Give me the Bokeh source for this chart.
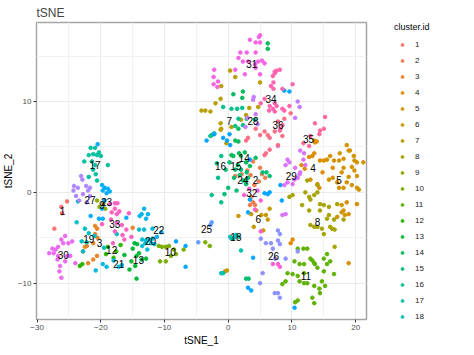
import math
from bokeh.plotting import figure
from bokeh.models import (Range1d, FixedTicker, ColumnDataSource, Legend, LegendItem, Title)
from bokeh.core.properties import value
from bokeh.embed import file_html
from bokeh.resources import INLINE

# ---------------- data (tSNE coordinates per cluster) ----------------
cluster_01 = [(-26.2,-1.6),(-25.3,-1.0),(-27.3,-4.0),(-26.1,-2.3)]
cluster_02 = [(3.0,2.4),(3.5,1.9),(4.8,1.2),(5.3,2.0),(4.1,0.8),(5.8,1.6),(3.9,3.4),(1.1,1.8),(3.6,-0.5),(3.9,-1.1),(3.4,-1.4),(4.2,-1.4),(2.1,2.0),(5.0,2.7)]
cluster_03 = [(-20.9,-3.7),(-20.6,-4.0),(-20.9,-4.6),(-20.5,-5.0),(-22.2,-5.9),(-21.2,-5.6),(-22.5,-6.0),(-22.0,-7.8),(-21.2,-7.4),(-20.6,-7.0),(-22.8,-6.5),(-15.0,-3.9)]
cluster_04 = [(13.5,5.7),(13.6,5.5),(13.9,5.6),(13.2,4.0),(12.7,3.9),(13.5,4.3),(14.4,3.5),(15.0,3.5),(12.9,1.4),(14.0,0.9),(14.3,0.5),(16.4,2.7),(12.0,2.6),(11.5,3.0),(14.8,2.2),(10.1,-5.2),(9.8,-5.6)]
cluster_05 = [(18.6,5.2),(18.9,4.6),(19.7,4.0),(19.8,3.5),(19.4,2.8),(19.8,2.4),(20.2,1.8),(18.9,1.7),(18.1,2.7),(17.8,2.2),(18.6,1.1),(19.4,0.8),(20.2,0.5),(20.5,0.3),(18.1,0.5),(17.4,0.5),(17.1,1.1),(16.4,1.6),(15.8,1.4),(16.0,4.0),(16.6,3.5),(17.4,3.5),(18.1,3.7),(20.2,-1.3),(18.6,-1.1),(17.8,-1.4),(18.1,-2.0),(18.9,-2.4),(18.3,-2.5),(17.1,-2.7),(17.5,4.3),(19.1,4.6),(20.2,3.3),(21.2,3.3),(18.9,-7.8),(17.8,-2.2),(15.5,3.6)]
cluster_06 = [(5.2,-2.5),(5.9,-2.5),(6.2,-3.0),(3.6,-2.4),(1.6,-2.6),(4.0,-3.8),(5.5,-4.2),(6.5,-1.8),(4.4,-2.0),(-0.5,-8.7),(-0.2,-8.6)]
cluster_07 = [(-4.2,9.0),(-3.6,9.0),(-2.8,8.9),(-1.2,10.3),(0.3,13.4),(1.1,12.7),(-1.1,11.7),(-1.2,7.6),(-1.1,7.0),(-1.2,6.9),(2.8,8.5),(0.5,7.2),(-0.3,5.4),(2.0,8.0),(3.3,9.3),(-2.0,9.8),(4.7,9.4),(5.0,12.1)]
cluster_08 = [(12.1,0.0),(12.7,-0.5),(12.9,-0.8),(13.5,-0.3),(14.0,0.0),(14.4,-1.3),(15.0,-1.4),(14.4,-2.0),(12.9,-3.6),(13.5,-3.8),(14.7,-4.0),(15.8,-2.5),(16.6,-3.0),(16.0,-3.8),(15.0,-4.6),(16.7,-4.1),(16.7,-6.0),(15.8,-1.6),(17.1,-1.3),(10.1,-0.3),(9.6,-0.5),(11.6,-1.4),(12.4,1.3),(14.0,0.8),(14.0,-3.8),(15.5,-2.9),(16.3,-4.0),(18.1,-3.0),(12.7,-2.0)]
cluster_09 = [(-19.6,-1.2),(-20.2,-1.6),(-19.3,-1.8),(-20.6,-0.9)]
cluster_10 = [(-10.9,-5.9),(-10.4,-6.0),(-9.8,-6.0),(-9.3,-5.9),(-8.5,-6.3),(-8.2,-6.8),(-9.0,-7.0),(-10.7,-7.6),(-9.8,-7.6),(-7.0,-6.3),(-3.6,-5.5),(-2.9,-5.9)]
cluster_11 = [(10.9,-6.2),(11.8,-6.2),(12.4,-6.2),(10.4,-7.6),(11.2,-7.9),(11.9,-7.9),(12.9,-7.3),(13.2,-7.5),(13.5,-7.8),(13.6,-7.9),(14.0,-8.3),(15.0,-8.7),(15.5,-7.9),(15.0,-7.3),(16.0,-7.6),(15.5,-6.8),(16.6,-9.0),(9.3,-8.9),(10.1,-9.0),(10.9,-9.2),(11.9,-8.9),(9.0,-9.8),(8.5,-10.1),(11.2,-9.8),(11.9,-10.0),(12.4,-10.0),(13.5,-10.3),(14.3,-10.6),(14.4,-11.1),(13.2,-11.6),(10.9,-11.9),(10.5,-12.1),(13.5,-12.2),(14.7,-9.8),(15.2,-10.3)]
cluster_12 = [(-18.9,-6.0),(-17.6,-6.5),(-18.0,-7.2),(-19.2,-6.8),(-16.9,-5.8),(-23.3,-8.1),(-22.9,-7.9)]
cluster_13 = [(-14.7,-5.6),(-14.3,-5.7),(-15.0,-6.2),(-14.0,-6.7),(-14.4,-7.0),(-13.6,-7.4),(-15.2,-7.6),(-14.6,-8.1),(-15.5,-8.5),(-14.4,-9.5),(-12.9,-7.3),(-16.3,-6.9)]
cluster_14 = [(1.6,7.0),(1.1,5.7),(1.6,5.6),(0.5,4.1),(0.8,4.0),(1.7,4.3),(2.0,4.0),(2.6,4.4),(4.3,3.8),(2.8,3.3),(3.4,2.9),(6.2,16.4),(6.2,15.8),(0.8,10.8),(2.2,10.4),(2.3,11.1)]
cluster_15 = [(0.2,3.3),(1.5,3.0),(-0.4,2.5),(0.9,1.6),(1.8,1.9),(2.7,1.3),(0.0,0.5),(-0.6,-0.2),(1.3,0.2),(5.4,2.2),(6.0,2.2),(6.5,1.8),(3.1,1.6),(2.8,0.9),(2.3,1.3),(1.1,2.5),(2.0,2.5),(2.9,2.2),(2.8,-9.5),(3.2,-9.5)]
cluster_16 = [(-2.6,6.3),(-2.2,6.5),(-2.8,6.2),(-1.1,4.0),(-2.6,-0.3),(-1.1,-1.1),(-0.8,9.4),(0.5,9.2),(1.4,9.2),(2.2,9.3),(1.6,8.1),(2.9,8.1),(4.2,8.0),(2.3,7.4),(1.1,7.3),(-1.6,1.6),(-1.8,3.2)]
cluster_17 = [(-21.9,4.1),(-21.2,4.2),(-20.6,4.1),(-20.3,4.4),(-20.0,4.0),(-22.6,3.4),(-21.4,3.4),(-20.9,3.0),(-18.9,3.0),(-21.2,2.5),(-21.9,1.7),(-20.8,2.0),(-20.6,1.3),(-21.6,4.9),(-20.9,4.9)]
cluster_18 = [(0.3,-4.9),(0.5,-5.1),(0.9,-5.0),(-1.1,-8.9),(-0.8,-8.9),(2.0,-6.4),(1.2,-4.7),(1.6,-4.9)]
cluster_19 = [(-22.5,-4.0),(-21.9,-4.5),(-23.0,-5.4),(-22.2,-5.5),(-21.0,-4.8),(-23.8,-3.3),(-22.8,-6.5),(-19.5,-6.1),(-17.5,-4.6),(-23.6,-1.0)]
cluster_20 = [(-13.5,-5.2),(-12.9,-5.3),(-12.4,-5.2),(-11.9,-5.1),(-13.0,-5.6),(-12.1,-5.6),(-13.5,-5.9),(-11.6,-5.7),(-12.7,-6.3),(-14.0,-4.1),(-13.2,-4.1),(-11.9,-4.0)]
cluster_21 = [(-19.7,-7.9),(-19.1,-8.2),(-16.7,-8.0),(-17.2,-8.2),(-18.0,-7.5),(-20.8,-8.6)]
cluster_22 = [(-13.2,-1.8),(-13.6,-2.4),(-12.6,-2.4),(-12.9,-2.9),(-11.2,-4.9),(-10.5,-4.4),(-13.9,-2.6)]
cluster_23 = [(-20.5,5.3),(-19.8,0.8),(-19.4,0.5),(-18.9,0.4),(-18.6,0.1),(-19.1,-0.1),(-19.7,0.2),(-19.4,-0.9),(-19.8,-1.8),(-20.3,-2.9),(-19.7,-2.9),(-16.0,-2.8),(-21.6,-2.6)]
cluster_24 = [(-3.4,5.7),(-2.2,6.4),(-0.8,6.0),(0.2,6.4),(-0.2,5.7),(0.3,5.2),(3.4,3.6),(6.2,-0.2),(6.5,0.0),(5.7,-0.1),(3.4,-0.8),(3.1,-2.2),(8.8,11.2),(9.6,11.1),(8.2,0.8),(8.4,-0.9),(-8.2,-5.4),(-6.7,-5.9),(-6.7,-8.2),(3.1,-10.5),(3.6,-10.8),(10.4,-12.7),(3.9,-7.2)]
cluster_25 = [(-4.7,-5.5),(-2.6,-3.3),(-2.8,-3.6)]
cluster_26 = [(7.8,-4.2),(8.1,-4.6),(5.9,-5.6),(6.7,-5.6),(7.8,-5.3),(8.1,-5.7),(7.0,-6.2),(5.1,-5.1),(9.0,-7.3),(7.4,-7.3),(7.3,-11.1),(7.8,-11.1),(8.1,-11.6),(5.4,-8.9),(5.0,-10.0),(10.9,-6.5)]
cluster_27 = [(-23.1,1.8),(-22.9,1.4),(-24.2,0.7),(-23.6,0.5),(-22.3,0.7),(-21.7,0.5),(-22.0,0.2),(-23.9,-0.4),(-23.4,-0.9),(-21.7,-0.4),(-22.2,-1.1),(-22.8,-0.2),(-24.3,0.2)]
cluster_28 = [(4.0,10.5),(3.9,10.2),(3.0,8.2),(4.6,7.5),(7.8,5.1),(4.3,8.6),(2.7,7.2),(10.9,10.0),(11.2,9.4),(10.5,8.2)]
cluster_29 = [(9.3,3.6),(9.6,3.3),(9.0,3.0),(11.8,3.6),(12.1,3.0),(11.3,2.2),(10.9,1.6),(10.4,1.4),(9.3,1.1),(10.1,0.9),(8.8,0.8),(11.3,4.6),(11.9,4.3),(10.5,2.7),(11.2,2.0),(8.5,-2.5),(9.0,-2.4)]
cluster_30 = [(-28.1,-6.7),(-27.4,-6.7),(-27.1,-6.3),(-26.7,-6.0),(-25.9,-5.6),(-25.6,-4.8),(-25.1,-5.6),(-26.2,-5.2),(-26.7,-7.0),(-26.8,-7.4),(-25.6,-7.6),(-26.4,-8.1),(-26.5,-8.7),(-26.2,-9.4),(-25.3,-7.0),(-24.8,-7.0),(-27.6,-6.2),(-24.5,-5.4),(-24.0,-7.8)]
cluster_31 = [(5.0,17.3),(4.8,17.1),(4.3,16.5),(5.0,16.5),(3.4,16.8),(1.9,15.4),(2.9,15.4),(4.3,15.4),(1.6,14.8),(2.3,14.4),(3.1,14.4),(4.7,14.4),(5.3,14.5),(4.2,14.1),(4.3,13.7),(2.6,13.0),(5.0,13.0),(-2.2,13.5),(-2.3,12.7),(-1.6,12.2),(1.1,13.5),(5.7,14.2),(-2.3,11.9),(-1.7,11.6)]
cluster_32 = [(3.3,0.4),(4.6,0.2),(2.5,-0.3),(5.1,-0.9),(7.0,-7.9),(7.8,-7.9),(8.1,-8.2),(5.1,-4.3),(4.2,-1.9)]
cluster_33 = [(-18.6,-1.3),(-17.8,-1.2),(-17.4,-1.2),(-18.3,-2.2),(-17.5,-2.4),(-17.1,-2.1),(-18.4,-3.0),(-17.5,-3.4),(-16.7,-3.6),(-16.0,-4.1),(-17.8,-4.3),(-16.6,-4.7),(-15.2,-4.9),(-18.1,-5.6),(-16.3,-5.2),(-17.8,-1.8),(-19.8,-3.5),(-15.6,-2.3)]
cluster_34 = [(7.3,13.3),(7.6,13.4),(8.1,13.5),(7.3,13.1),(7.0,12.8),(7.1,12.1),(6.7,11.7),(7.1,11.4),(8.5,11.4),(10.1,11.9),(7.3,9.8),(6.5,9.5),(7.0,9.2),(7.6,9.5),(8.5,9.2),(8.8,9.0),(7.3,8.9),(6.4,9.0),(9.6,9.5),(5.1,9.8),(5.7,10.3)]
cluster_35 = [(13.6,7.6),(14.3,6.4),(14.4,6.8),(12.9,6.2),(11.8,5.4),(12.7,5.1),(8.2,7.0),(8.5,7.4),(8.1,6.8),(15.2,8.3),(15.0,7.0)]
cluster_36 = [(4.3,7.0),(5.0,6.3),(6.2,6.3),(7.3,6.7),(8.5,6.2),(7.8,5.2),(5.9,4.3),(5.7,4.1),(6.5,4.7),(8.8,8.1),(7.8,7.8),(9.8,8.7),(5.7,6.7),(6.5,6.0),(2.8,5.7),(3.1,6.0)]

clusters = [cluster_01, cluster_02, cluster_03, cluster_04, cluster_05, cluster_06,
            cluster_07, cluster_08, cluster_09, cluster_10, cluster_11, cluster_12,
            cluster_13, cluster_14, cluster_15, cluster_16, cluster_17, cluster_18,
            cluster_19, cluster_20, cluster_21, cluster_22, cluster_23, cluster_24,
            cluster_25, cluster_26, cluster_27, cluster_28, cluster_29, cluster_30,
            cluster_31, cluster_32, cluster_33, cluster_34, cluster_35, cluster_36]
cluster_ids = [str(i) for i in range(1, 37)]

# cluster label positions (medians)
label_x = [-26.0, 4.3, -20.2, 13.3, 17.4, 4.7, 0.15, 14.0, -19.8, -9.1, 12.2, -18.3,
           -14.1, 2.5, 1.2, -1.2, -20.9, 1.2, -21.9, -12.2, -17.2, -10.9, -19.1, 2.3,
           -3.4, 7.1, -21.7, 3.9, 9.9, -25.9, 3.7, 3.7, -17.8, 6.7, 12.6, 7.8]
label_y = [-2.1, 1.4, -5.6, 2.7, 1.4, -2.9, 7.9, -3.3, -1.4, -6.6, -9.2, -6.3,
           -7.5, 3.8, 2.9, 2.9, 3.0, -4.9, -5.1, -5.4, -7.9, -4.1, -1.1, 1.4,
           -4.0, -7.0, -0.8, 7.9, 1.8, -6.9, 14.1, -0.1, -3.5, 10.3, 5.9, 7.4]

x_ticks = [-30, -20, -10, 0, 10, 20]
x_minor = [-25, -15, -5, 5, 15]
y_ticks = [-10, 0, 10]
y_minor = [-5, 5, 15]


# ---------------- ggplot hue palette ----------------
def hcl_hex(h, c=100.0, l=65.0):
    hr = math.radians(h)
    u = c * math.cos(hr)
    v = c * math.sin(hr)
    Xn, Yn, Zn = 95.047, 100.0, 108.883
    d = Xn + 15 * Yn + 3 * Zn
    un, vn = 4 * Xn / d, 9 * Yn / d
    Y = Yn * ((l + 16) / 116) ** 3
    up = u / (13 * l) + un
    vp = v / (13 * l) + vn
    X = Y * 9 * up / (4 * vp)
    Z = Y * (12 - 3 * up - 20 * vp) / (4 * vp)
    X, Y, Z = X / 100, Y / 100, Z / 100
    r = 3.2404542 * X - 1.5371385 * Y - 0.4985314 * Z
    g = -0.9692660 * X + 1.8760108 * Y + 0.0415560 * Z
    b = 0.0556434 * X - 0.2040259 * Y + 1.0572252 * Z

    def gam(t):
        t = 1.055 * t ** (1 / 2.4) - 0.055 if t > 0.0031308 else 12.92 * t
        return min(max(t, 0.0), 1.0)
    return "#%02x%02x%02x" % tuple(int(round(gam(t) * 255)) for t in (r, g, b))


n = len(cluster_ids)
palette = [hcl_hex(15 + 360.0 * i / n) for i in range(n)]

FONT = "Liberation Sans"

# ---------------- main panel ----------------
p = figure(frame_width=330, frame_height=297, output_backend="svg", toolbar_location=None,
           x_range=Range1d(-30.1, 21.7), y_range=Range1d(-14.0, 18.7),
           title="tSNE")

renderers = []
for k, pts in enumerate(clusters):
    src = ColumnDataSource(dict(x=[q[0] for q in pts], y=[q[1] for q in pts]))
    r = p.scatter(x="x", y="y", source=src, size=3.6, color=palette[k])
    renderers.append(r)

p.text(x=label_x, y=label_y, text=cluster_ids, text_font=value(FONT),
       text_font_size="10px", text_align="center", text_baseline="middle",
       text_color="black")

p.title.text_font = FONT
p.title.text_font_style = "normal"
p.title.text_font_size = "12px"
p.title.align = "left"
p.title.standoff = 6
p.title.offset = 0

p.xaxis.ticker = FixedTicker(ticks=x_ticks, minor_ticks=x_minor)
p.yaxis.ticker = FixedTicker(ticks=y_ticks, minor_ticks=y_minor)
for ax in (p.xaxis, p.yaxis):
    ax.major_label_text_font = FONT
    ax.major_label_text_font_size = "8px"
    ax.major_label_text_color = "#4D4D4D"
    ax.major_label_standoff = 1
    ax.axis_line_color = None
    ax.major_tick_line_color = "#333333"
    ax.major_tick_in = 0
    ax.major_tick_out = 3
    ax.minor_tick_line_color = None

# axis titles
p.add_layout(Title(text="tSNE_1", align="center", text_font=FONT, text_font_size="10px",
                   text_font_style="normal", text_color="black", standoff=1, offset=0), "below")
p.add_layout(Title(text="tSNE_2", align="center", text_font=FONT, text_font_size="10px",
                   text_font_style="normal", text_color="black", standoff=1, offset=0), "left")

for gr in (p.xgrid, p.ygrid):
    gr.grid_line_color = "#EBEBEB"
    gr.grid_line_width = 1
    gr.minor_grid_line_color = "#F2F2F2"
    gr.minor_grid_line_width = 1

p.outline_line_color = "#A6A6A6"
p.outline_line_width = 1.5
p.background_fill_color = "white"
p.border_fill_color = "white"
p.min_border_left = 0
p.min_border_right = 0
p.min_border_top = 0
p.min_border_bottom = 0

# ---------------- legend: two columns ----------------
leg_style = dict(orientation="vertical",
                 padding=0, margin=0, spacing=0,
                 glyph_width=16, glyph_height=7, label_height=16, label_width=14,
                 label_standoff=5, title_standoff=4,
                 background_fill_alpha=0, border_line_color=None,
                 label_text_font=FONT, label_text_font_size="8px",
                 label_text_color="#1A1A1A",
                 title_text_font=FONT, title_text_font_size="9px",
                 title_text_font_style="normal", title_text_color="black")
half = n // 2
leg1 = Legend(items=[LegendItem(label=cluster_ids[i], renderers=[renderers[i]]) for i in range(half)],
              title="cluster.id", location=(28, -5), **leg_style)
leg2 = Legend(items=[LegendItem(label=cluster_ids[i], renderers=[renderers[i]]) for i in range(half, n)],
              title=" ", location=(1, -5), **leg_style)
p.add_layout(leg1, "right")
p.add_layout(leg2, "right")

open("out.html", "w").write(file_html(p, INLINE))
